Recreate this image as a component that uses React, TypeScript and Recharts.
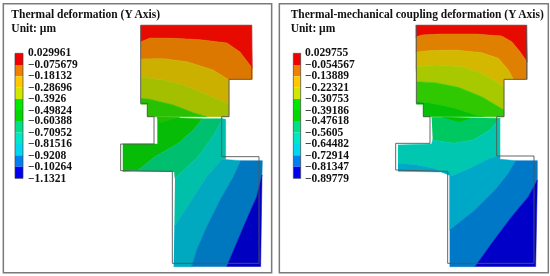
import React from 'react';
import { ScatterChart, Scatter, XAxis, YAxis, ReferenceArea, ReferenceDot } from 'recharts';

type Pt = [number, number];
interface Band { color: string; pts: Pt[] }

const bandColors = ['#f00000', '#f08000', '#ffc800', '#d0e800', '#00e800', '#00d800', '#00e088', '#00e8c8', '#00d8f0', '#0080f0', '#0000f0'];

const thermalTicks = ['0.029961', '−0.075679', '−0.18132', '−0.28696', '−0.3926', '−0.49824', '−0.60388', '−0.70952', '−0.81516', '−0.9208', '−0.10264', '−1.1321'];
const coupledTicks = ['0.029755', '−0.054567', '−0.13889', '−0.22321', '−0.30753', '−0.39186', '−0.47618', '−0.5605', '−0.64482', '−0.72914', '−0.81347', '−0.89779'];

const tickRows = [157, 191, 226, 260, 294, 329, 361, 396, 430, 464, 498, 533];
const barRows = [160, 195, 229, 263, 297, 330, 363, 398, 432, 466, 500, 535];

const thermalOutline: Pt[] = [[422, 76], [755, 76], [755, 238], [687, 238], [687, 350], [665, 350], [665, 470], [777, 470], [777, 790], [517, 790], [517, 514], [362, 512], [362, 432], [462, 432], [462, 350], [442, 350], [442, 310], [422, 310], [422, 76]];
const coupledOutline: Pt[] = [[424, 76], [755, 76], [755, 238], [687, 238], [687, 350], [665, 350], [665, 468], [777, 468], [777, 790], [518, 790], [518, 514], [362, 510], [362, 430], [465, 430], [465, 350], [445, 350], [445, 310], [424, 310], [424, 76]];

// contour lines, left to right
const t1: Pt[] = [[422, 126], [450, 114], [520, 115], [600, 119], [681, 129], [720, 156], [757, 205]];
const t2: Pt[] = [[422, 177], [489, 176], [561, 185], [639, 210], [687, 240]];
const t3: Pt[] = [[422, 232], [490, 240], [550, 255], [610, 280], [687, 312]];
const t4: Pt[] = [[422, 295], [450, 298], [520, 315], [580, 338], [620, 350]];
const t5: Pt[] = [[369, 514], [415, 510], [465, 470], [535, 430], [580, 390], [607, 356]];
const t6: Pt[] = [[525, 535], [595, 470], [645, 400], [667, 356]];
const t7: Pt[] = [[523, 680], [575, 600], [620, 530], [665, 478]];
const t8: Pt[] = [[575, 800], [590, 750], [620, 680], [660, 600], [700, 530], [722, 482]];
const t9: Pt[] = [[680, 800], [735, 670], [770, 590], [786, 525]];

const c1: Pt[] = [[422, 112], [440, 105], [500, 102], [600, 102], [680, 108], [710, 125], [735, 155], [757, 187]];
const c2: Pt[] = [[422, 157], [460, 152], [540, 150], [620, 158], [670, 175], [700, 210], [715, 238]];
const c3: Pt[] = [[422, 200], [480, 195], [560, 200], [620, 220], [665, 245], [687, 262]];
const c4: Pt[] = [[424, 245], [480, 248], [550, 262], [620, 290], [687, 330]];
const c5: Pt[] = [[424, 305], [470, 310], [540, 325], [600, 345], [625, 350]];
const c6: Pt[] = [[473, 420], [535, 430], [595, 420], [645, 390], [675, 355]];
const c7: Pt[] = [[369, 490], [425, 495], [475, 505], [530, 528], [585, 505], [645, 475], [675, 468]];
const c8: Pt[] = [[524, 690], [600, 630], [660, 570], [700, 520], [722, 482]];
const c9: Pt[] = [[600, 800], [650, 730], [710, 650], [760, 590], [787, 540]];

const rev = (pts: Pt[]) => [...pts].reverse();

const thermalBands: Band[] = [
  { color: '#e60a00', pts: [[422, 76], [755, 76], ...rev(t1)] },
  { color: '#dc7800', pts: [...t1, [757, 238], [687, 238], ...rev(t2)] },
  { color: '#ccb000', pts: [...t2, ...rev(t3)] },
  { color: '#a4be00', pts: [...t3, [687, 350], ...rev(t4)] },
  { color: '#28c000', pts: [...t4, [442, 350], [442, 313], [422, 313]] },
  { color: '#06bc06', pts: [[472, 352], ...rev(t5), [369, 432], [472, 432]] },
  { color: '#20c000', pts: [[470, 352], [540, 352], [480, 368]] },
  { color: '#00c070', pts: [...t5, [667, 356], ...rev(t6), [523, 516]] },
  { color: '#00c0aa', pts: [...t6, [677, 358], [677, 478], ...rev(t7)] },
  { color: '#00a8c0', pts: [...t7, [722, 482], ...rev(t8), [521, 800]] },
  { color: '#0078c0', pts: [...t8, [787, 482], [786, 525], ...rev(t9)] },
  { color: '#0000c0', pts: [...t9, [782, 800]] },
];

const coupledBands: Band[] = [
  { color: '#e60a00', pts: [[422, 76], [755, 76], ...rev(c1)] },
  { color: '#e08000', pts: [...c1, [757, 238], ...rev(c2)] },
  { color: '#d4b800', pts: [...c2, [687, 238], [687, 262], ...rev(c3)] },
  { color: '#a8c800', pts: [...c3, ...rev(c4)] },
  { color: '#30c800', pts: [...c4, [687, 350], ...rev(c5)] },
  { color: '#06c006', pts: [...c5, [445, 350], [445, 313], [424, 313]] },
  { color: '#00c860', pts: [[470, 352], [675, 355], ...rev(c6)] },
  { color: '#06c006', pts: [[500, 352], [585, 355], [550, 365]] },
  { color: '#00c8b0', pts: [[369, 435], [470, 432], ...c6, ...rev(c7)] },
  { color: '#00a8c8', pts: [...c7, [675, 478], [722, 482], ...rev(c8), [524, 516], [369, 514]] },
  { color: '#0078c8', pts: [...c8, [787, 482], ...rev(c9), [524, 800]] },
  { color: '#0000c8', pts: [...c9, [782, 800]] },
];

const toXY = (pts: Pt[]) => pts.map(([x, y]) => ({ x, y }));
const noDot = () => null;
const serif = '"Liberation Serif", serif';

function Panel({ title, titleX, ticks, bands, outline, barX, tickX, frameX }: {
  title: string; titleX: number; ticks: string[]; bands: Band[]; outline: Pt[];
  barX: [number, number]; tickX: number; frameX: [number, number];
}) {
  const textLabel = (value: string) => ({
    value, position: 'right' as const, offset: 0, fill: '#111', fontSize: 11.5, fontWeight: 700, fontFamily: serif,
  });
  return (
    <ScatterChart width={275} height={276} margin={{ top: 0, right: 0, bottom: 0, left: 0 }}>
      <XAxis type="number" dataKey="x" domain={[0, 825]} hide allowDataOverflow />
      <YAxis type="number" dataKey="y" domain={[0, 828]} reversed hide allowDataOverflow />
      <ReferenceArea x1={frameX[0]} x2={frameX[1]} y1={11} y2={818} fill="none" stroke="#7a7a7a" strokeWidth={1.5} />
      {bands.map((b, i) => (
        <Scatter key={i} data={toXY(b.pts)} shape={noDot} lineType="joint" isAnimationActive={false}
          line={{ fill: b.color, stroke: b.color, strokeWidth: 0.5 }} />
      ))}
      <Scatter data={toXY(outline)} shape={noDot} lineType="joint" isAnimationActive={false}
        line={{ fill: 'none', stroke: '#555', strokeWidth: 0.9 }} />
      {bandColors.map((c, i) => (
        <ReferenceArea key={c} x1={barX[0]} x2={barX[1]} y1={barRows[i]} y2={barRows[i + 1]} fill={c} fillOpacity={1} stroke="none" />
      ))}
      <ReferenceArea x1={barX[0]} x2={barX[1]} y1={barRows[0]} y2={barRows[11]} fill="none" stroke="#444" strokeWidth={0.7} />
      <ReferenceDot x={titleX} y={42} r={0} stroke="none" label={textLabel(title)} />
      <ReferenceDot x={titleX} y={84} r={0} stroke="none" label={textLabel('Unit: µm')} />
      {ticks.map((t, i) => (
        <ReferenceDot key={t} x={tickX} y={tickRows[i]} r={0} stroke="none" label={textLabel(t)} />
      ))}
    </ScatterChart>
  );
}

export default function App() {
  return (
    <div style={{ position: 'absolute', left: 0, top: 0, width: 550, height: 276, display: 'flex', background: '#fff', filter: 'blur(0.35px)' }}>
      <Panel title="Thermal deformation (Y Axis)" titleX={34} ticks={thermalTicks} bands={thermalBands} outline={thermalOutline}
        barX={[45, 69]} tickX={84} frameX={[10, 815]} />
      <Panel title="Thermal-mechanical coupling deformation (Y Axis)" titleX={47} ticks={coupledTicks} bands={coupledBands} outline={coupledOutline}
        barX={[55, 77]} tickX={90} frameX={[13, 820]} />
    </div>
  );
}
